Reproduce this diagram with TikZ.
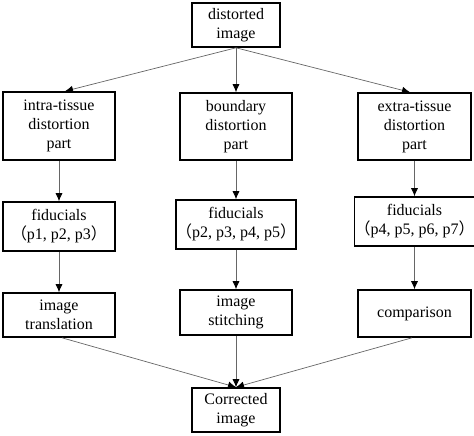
\documentclass[tikz,border=0pt]{standalone}
\usepackage{fontspec}
\setmainfont{Liberation Serif}
\newfontfamily\cjk{Noto Sans CJK SC}
\usetikzlibrary{arrows.meta}

\tikzset{
    box/.style = {draw , line width = 1.6pt , align = center , inner sep = 0pt ,
                  font = \fontsize{16}{19}\selectfont},
    link/.style = {draw = black!60 , line width = 0.7pt ,
                   -{Latex[length = 8pt , width = 7pt , black]}}
}

\begin{document}
\begin{tikzpicture}[x = 1pt , y = -1pt]
    \useasboundingbox (0,0) rectangle (474,436);
    % Boxen
    \node[box , minimum width = 88pt , minimum height = 44pt] (src) at (236,25) {distorted\\image};
    \node[box , minimum width = 112pt , minimum height = 68pt] (intra) at (59,126) {intra-tissue\\distortion\\part};
    \node[box , minimum width = 112pt , minimum height = 67pt] (bound) at (236,126.5) {boundary\\distortion\\part};
    \node[box , minimum width = 113pt , minimum height = 67pt] (extra) at (414.5,126.5) {extra-tissue\\distortion\\part};
    \node[box , minimum width = 112pt , minimum height = 49pt] (fidA) at (59,226.5) {fiducials\\{\cjk （}p1, p2, p3{\cjk ）}};
    \node[box , minimum width = 112pt , minimum height = 49pt] (fidB) at (236,224.5) {fiducials\\{\cjk （}p2, p3, p4, p5{\cjk ）}};
    \node[box , minimum width = 113pt , minimum height = 49pt] (fidC) at (414.5,221.5) {fiducials\\{\cjk （}p4, p5, p6, p7{\cjk ）}};
    \node[box , minimum width = 112pt , minimum height = 44pt] (trans) at (59,315) {image\\translation};
    \node[box , minimum width = 112pt , minimum height = 45pt] (stitch) at (236,312.5) {image\\stitching};
    \node[box , minimum width = 113pt , minimum height = 47pt] (comp) at (414.5,313.5) {comparison};
    \node[box , minimum width = 88pt , minimum height = 44pt] (out) at (236,410) {Corrected\\image};
    % Pfeile
    \draw[link] (src.south) -- ([xshift = 6pt]intra.north);
    \draw[link] (src.south) -- (bound.north);
    \draw[link] (src.south) -- ([xshift = -4.5pt]extra.north);
    \draw[link] (intra) -- (fidA);
    \draw[link] (bound) -- (fidB);
    \draw[link] (extra) -- (fidC);
    \draw[link] (fidA) -- (trans);
    \draw[link] (fidB) -- (stitch);
    \draw[link] (fidC) -- (comp);
    \draw[link] ([xshift = 3pt]trans.south) -- (out.north);
    \draw[link] (stitch.south) -- (out.north);
    \draw[link] ([xshift = -2.5pt]comp.south) -- (out.north);
\end{tikzpicture}
\end{document}
